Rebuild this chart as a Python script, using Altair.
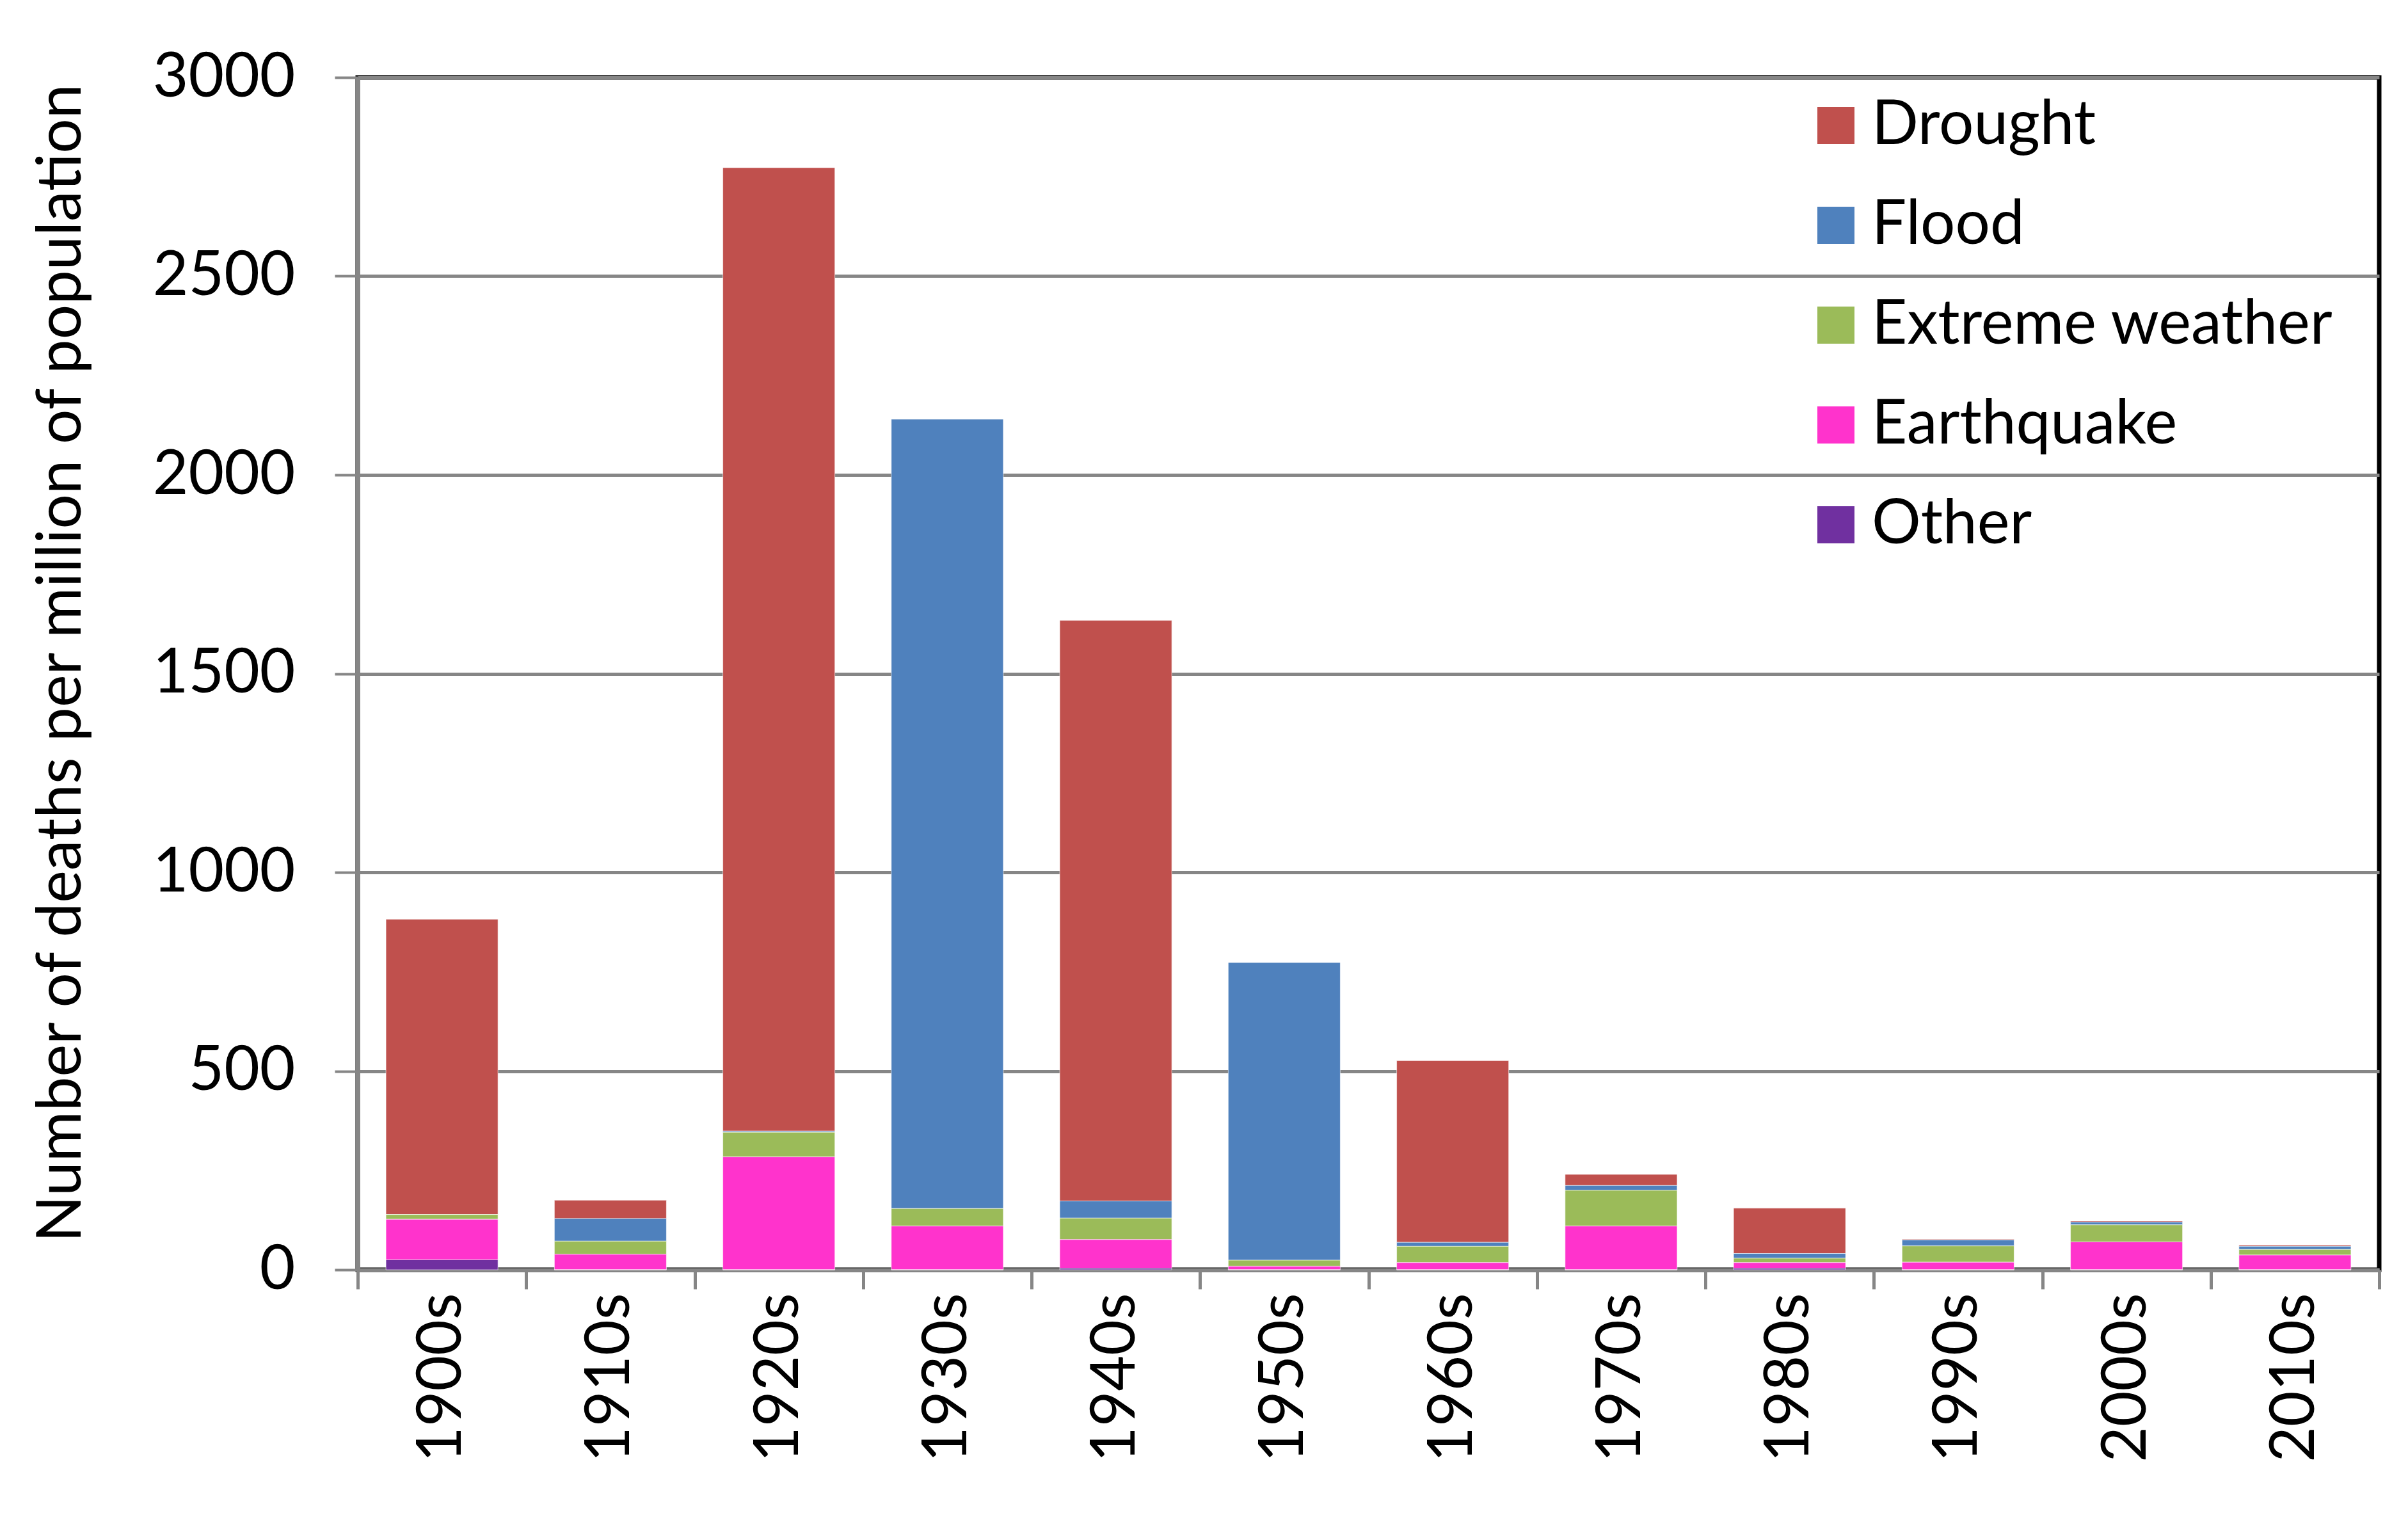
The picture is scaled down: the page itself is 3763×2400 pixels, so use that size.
import altair as alt
import pandas as pd

decades = ["1900s", "1910s", "1920s", "1930s", "1940s", "1950s",
           "1960s", "1970s", "1980s", "1990s", "2000s", "2010s"]
drought = [743, 46, 2424, 0, 1461, 0, 457, 28, 114, 2, 2.5, 3]
flood = [0, 57, 3, 1986, 43, 749, 10, 12, 12, 15, 7, 8]
extreme = [12, 33, 62, 44, 54, 15, 41, 90, 11, 41, 43, 14]
earthquake = [102, 39, 284, 110, 72, 9, 18, 110, 14, 19, 70, 37]
other = [25, 0, 0, 0, 4, 0, 0, 0, 4, 0, 0, 0]

series = ["Drought", "Flood", "Extreme weather", "Earthquake", "Other"]
colors = ["#C0504D", "#4F81BD", "#9BBB59", "#FF33CC", "#7030A0"]
values = [drought, flood, extreme, earthquake, other]
stack_rank = {"Other": 0, "Earthquake": 1, "Extreme weather": 2, "Flood": 3, "Drought": 4}

rows = []
for name, vals in zip(series, values):
    for d, v in zip(decades, vals):
        rows.append({"decade": d, "type": name, "deaths": v, "rank": stack_rank[name]})
df = pd.DataFrame(rows)

FONT = "Lato"
FS = 96
GRAY = "#868686"

chart = alt.Chart(df).mark_bar(
    width=alt.RelativeBandSize(0.665), stroke="white", strokeWidth=1, strokeOpacity=0.6
).encode(
    x=alt.X("decade:N", sort=decades,
            scale=alt.Scale(paddingInner=0, paddingOuter=0),
            axis=alt.Axis(title=None, labelAngle=-90, tickBand="extent",
                          labelFont=FONT, labelFontSize=FS, labelColor="black",
                          labelLimit=2000, labelPadding=6, tickSize=30, tickWidth=5,
                          tickColor=GRAY, domainColor=GRAY, domainWidth=6, grid=False)),
    y=alt.Y("deaths:Q", stack="zero",
            scale=alt.Scale(domain=[0, 3000], nice=False),
            axis=alt.Axis(title="Number of deaths per million of population",
                          values=[0, 500, 1000, 1500, 2000, 2500, 3000], format="d",
                          labelFont=FONT, labelFontSize=FS, labelColor="black",
                          labelLimit=2000, labelPadding=62, tickSize=36, tickWidth=4,
                          tickColor=GRAY, domainColor=GRAY, domainWidth=7,
                          grid=True, gridColor=GRAY, gridWidth=5,
                          titleFont=FONT, titleFontSize=FS, titleFontWeight="normal",
                          titleColor="black", titleBaseline="middle", titleLimit=3000,
                          titleX=-463, titleY=915, titleAngle=-90)),
    color=alt.Color("type:N",
                    scale=alt.Scale(domain=series, range=colors),
                    legend=alt.Legend(title=None, orient="none", legendX=2262, legendY=27,
                                      symbolType="square", symbolSize=3364,
                                      symbolStrokeWidth=0, symbolOpacity=1,
                                      labelFont=FONT, labelFontSize=FS, labelColor="black",
                                      labelOffset=8, rowPadding=60, labelLimit=2000)),
    order=alt.Order("rank:Q", sort="ascending"),
).properties(
    width=3159, height=1863,
    background="white",
    view=alt.ViewBackground(stroke="black", strokeWidth=7),
    autosize=alt.AutoSizeParams(type="none"),
    padding={"left": 559, "top": 121, "right": 45, "bottom": 416},
)

chart.save("out.html", embed_options={"renderer": "svg", "actions": False})
